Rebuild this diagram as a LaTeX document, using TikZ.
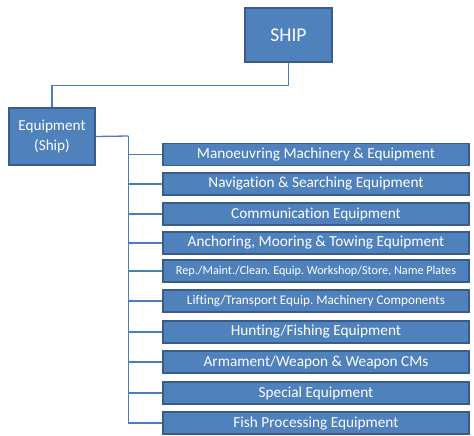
\documentclass[tikz,border=0pt]{standalone}
\usepackage{fontspec}
\setmainfont{Carlito}[Ligatures=NoCommon]
\definecolor{boxfill}{HTML}{4F81BD}
\definecolor{boxline}{HTML}{385D8A}
\definecolor{conn}{HTML}{4A7EBB}
\frenchspacing
\begin{document}
\begin{tikzpicture}[x=1pt,y=-1pt,
  box/.style={draw=boxline,fill=boxfill,line width=1.2pt,text=white,inner sep=0pt,align=center},
  item/.style={box,minimum width=306pt,minimum height=22pt,font=\fontsize{15.3}{17}\selectfont},
  link/.style={draw=conn,line width=1.3pt}]
\useasboundingbox (0,0) rectangle (474,436);
\node[box,minimum width=87pt,minimum height=54pt,font=\fontsize{19.5}{22}\selectfont] (ship) at (288.5,35) {SHIP};
\node[box,minimum width=86pt,minimum height=57pt,font=\fontsize{15.2}{19.5}\selectfont] (equip) at (52,136.5) {Equipment\\(Ship)};
\node[item] (c1) at (316,154.5) {Manoeuvring Machinery \& Equipment};
\node[item] (c2) at (316,184) {Navigation \& Searching Equipment};
\node[item] (c3) at (316,214) {Communication Equipment};
\node[item] (c4) at (316,243) {Anchoring, Mooring \& Towing Equipment};
\node[item,font=\fontsize{12.2}{13}\selectfont] (c5) at (316,271) {Rep./Maint./Clean. Equip. Workshop/Store, Name Plates};
\node[item,font=\fontsize{13.2}{14}\selectfont] (c6) at (316,301) {Lifting/Transport Equip. Machinery Components};
\node[item] (c7) at (316,332) {Hunting/Fishing Equipment};
\node[item] (c8) at (316,362) {Armament/Weapon \& Weapon CMs};
\node[item] (c9) at (316,393) {Special Equipment};
\node[item] (c10) at (316,423) {Fish Processing Equipment};
\coordinate (bus) at (128.5,136);
\draw[link] (ship.south) -- ++(0,23) -| (equip.north);
\draw[link] (equip.east) -- (bus);
\foreach \i in {1,...,10} \draw[link] (bus) |- (c\i.west);
\end{tikzpicture}
\end{document}
